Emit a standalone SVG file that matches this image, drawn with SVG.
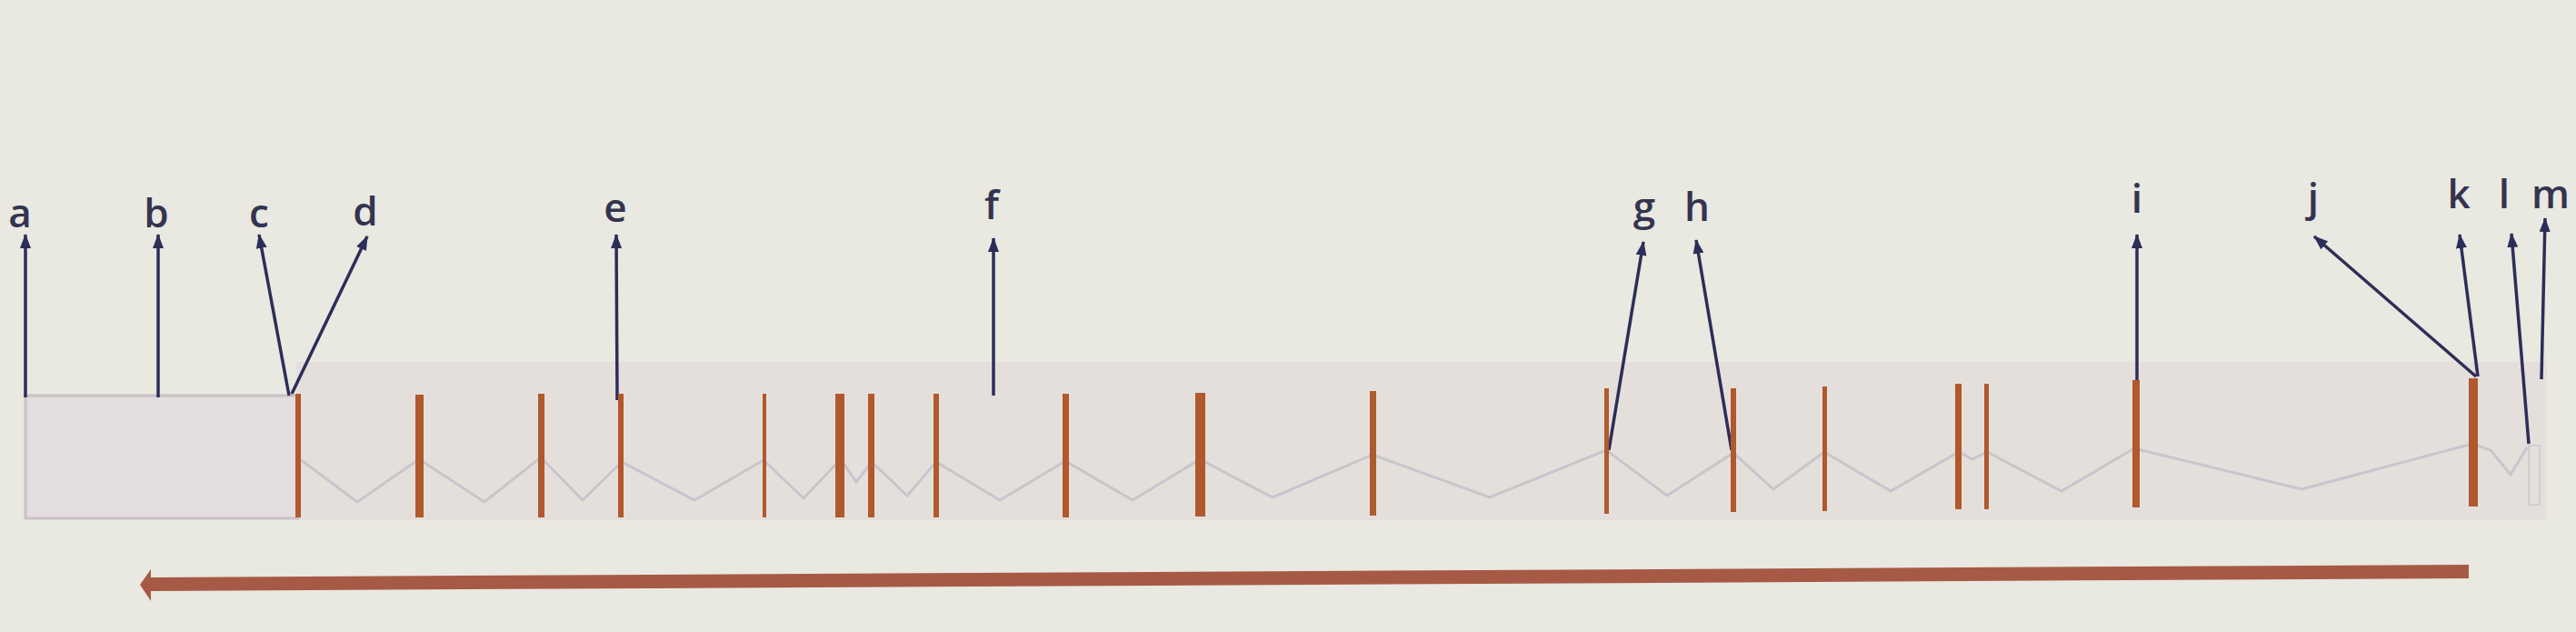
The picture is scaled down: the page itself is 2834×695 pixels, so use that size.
<svg xmlns="http://www.w3.org/2000/svg" width="2834" height="695" viewBox="0 0 2834 695">
<style>
.lbl{font-family:"Open Sans","Liberation Sans",sans-serif;font-size:44px;font-weight:600;fill:#34344f;text-anchor:middle}
.bar{fill:#b0592d}
.zz{fill:none;stroke:#cac4cc;stroke-width:3;stroke-linejoin:miter}
.arr{fill:none;stroke:#2d2e57;stroke-width:3.5;marker-end:url(#ah)}
</style>
<defs>
<marker id="ah" viewBox="0 0 16 12" refX="15" refY="6" markerWidth="16" markerHeight="12" markerUnits="userSpaceOnUse" orient="auto">
<path d="M0,0 L16,6 L0,12 z" fill="#2d2e57"/>
</marker>
</defs>
<rect x="0" y="0" width="2834" height="695" fill="#e9e8e1"/>
<g id="band">
<rect x="326" y="398" width="2476" height="174" fill="#e5dfdc"/>
<rect x="28" y="435" width="300" height="135" fill="#e3dddd" stroke="#cbc0c4" stroke-width="3"/>
<rect x="2782" y="490" width="12" height="65" fill="none" stroke="#d2ccd2" stroke-width="2"/>
</g>
<g id="zigzag">
<polyline class="zz" points="330,505 393,552 461,505 533,552 595,503 641,550 684,508 764,550 840,506 884,548 925,505 942,530 959,508 998,545 1030,508 1100,550 1172,507 1246,550 1320,505 1400,547 1510,500 1639,547 1767,495 1834,545 1907,498 1951,538 2007,497 2080,540 2155,497 2170,505 2186,497 2268,540 2348,493 2532,538 2720,488 2740,495 2762,522 2780,492"/>
</g>
<g id="connectors">
<line class="arr" x1="28" y1="437" x2="28" y2="258"/>
<line class="arr" x1="174" y1="437" x2="174" y2="258"/>
<line class="arr" x1="318" y1="435" x2="285" y2="258"/>
<line class="arr" x1="321" y1="433" x2="404" y2="260"/>
<line class="arr" x1="679" y1="440" x2="678" y2="258"/>
<line class="arr" x1="1093" y1="435" x2="1093" y2="262"/>
<line class="arr" x1="1770" y1="495" x2="1808" y2="266"/>
<line class="arr" x1="1905" y1="495" x2="1866" y2="264"/>
<line class="arr" x1="2351" y1="420" x2="2351" y2="258"/>
<line class="arr" x1="2724" y1="414" x2="2546" y2="260"/>
<line class="arr" x1="2726" y1="414" x2="2706" y2="258"/>
<line class="arr" x1="2782" y1="488" x2="2763" y2="257"/>
<line class="arr" x1="2796" y1="417" x2="2800" y2="240"/>
</g>
<g id="bars">
<rect class="bar" x="325" y="433" width="6" height="136"/>
<rect class="bar" x="457" y="434" width="9" height="135"/>
<rect class="bar" x="592" y="433" width="7" height="136"/>
<rect class="bar" x="680" y="433" width="6" height="136"/>
<rect class="bar" x="839" y="433" width="4" height="136"/>
<rect class="bar" x="919" y="433" width="10" height="136"/>
<rect class="bar" x="955" y="433" width="7" height="136"/>
<rect class="bar" x="1027" y="433" width="6" height="136"/>
<rect class="bar" x="1169" y="433" width="7" height="136"/>
<rect class="bar" x="1315" y="432" width="11" height="136"/>
<rect class="bar" x="1507" y="430" width="7" height="137"/>
<rect class="bar" x="1765" y="427" width="5" height="138"/>
<rect class="bar" x="1904" y="427" width="6" height="136"/>
<rect class="bar" x="2005" y="425" width="5" height="137"/>
<rect class="bar" x="2151" y="422" width="7" height="138"/>
<rect class="bar" x="2183" y="422" width="5" height="138"/>
<rect class="bar" x="2346" y="418" width="8" height="140"/>
<rect class="bar" x="2716" y="416" width="10" height="141"/>
</g>
<g id="label-a"><text class="lbl" x="22" y="250">a</text></g>
<g id="label-b"><text class="lbl" x="172" y="250">b</text></g>
<g id="label-c"><text class="lbl" x="285" y="250">c</text></g>
<g id="label-d"><text class="lbl" x="402" y="248">d</text></g>
<g id="label-e"><text class="lbl" x="677" y="244">e</text></g>
<g id="label-f"><text class="lbl" x="1091" y="241">f</text></g>
<g id="label-g"><text class="lbl" x="1809" y="243">g</text></g>
<g id="label-h"><text class="lbl" x="1867" y="243">h</text></g>
<g id="label-i"><text class="lbl" x="2351" y="234">i</text></g>
<g id="label-j"><text class="lbl" x="2545" y="233">j</text></g>
<g id="label-k"><text class="lbl" x="2705" y="229">k</text></g>
<g id="label-l"><text class="lbl" x="2755" y="229">l</text></g>
<g id="label-m"><text class="lbl" x="2806" y="229">m</text></g>
<g id="timeline-arrow">
<polygon points="2716,621 166,635 166,626 154,643 166,661 166,650 2716,636" fill="#a65a45"/>
</g>
</svg>
